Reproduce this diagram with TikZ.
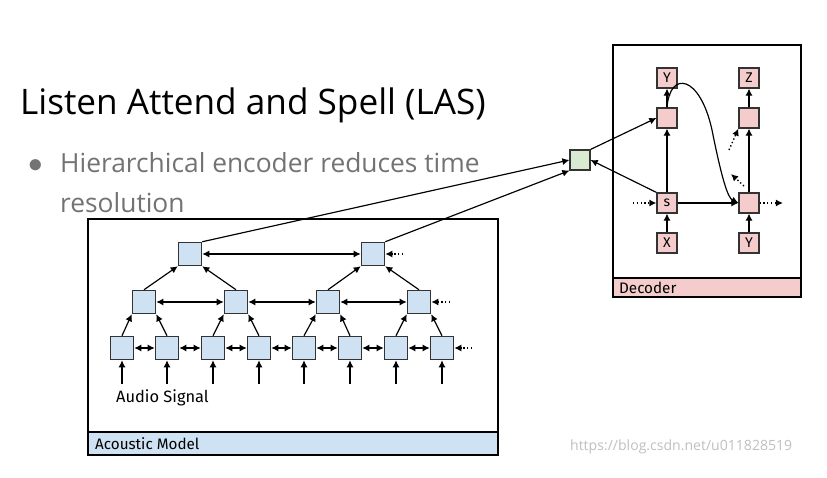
\documentclass[tikz,border=0pt]{standalone}
\usepackage{fontspec}
\setmainfont{Open Sans}
\newfontfamily\lab{Fira Sans}
\usetikzlibrary{arrows.meta}
\definecolor{encblue}{HTML}{CFE2F3}
\definecolor{decpink}{HTML}{F4CCCC}
\definecolor{attgreen}{HTML}{D9EAD3}
\begin{document}
\begin{tikzpicture}[x=0.03cm,y=-0.03cm,
  enc/.style={draw=black!80,fill=encblue,line width=1pt,minimum size=0.7cm,inner sep=0pt},
  dec/.style={draw=black!80,fill=decpink,line width=1pt,minimum size=0.6cm,inner sep=0pt,font=\lab\fontsize{12}{14}\selectfont},
  arr/.style={-{Latex[length=6pt,width=6pt]},line width=1pt},
  bi/.style={{Latex[length=6pt,width=6pt]}-{Latex[length=6pt,width=6pt]},line width=1pt},
  dot/.style={-{Latex[length=6pt,width=6pt]},line width=1.2pt,dotted}]
\useasboundingbox (0,0) rectangle (827,478);
% title and bullet
\node[anchor=west,font=\fontsize{30}{34}\selectfont] (title) at (16,105) {Listen Attend and Spell (LAS)};
\node[text=black!55,font=\fontsize{30}{30}\selectfont] (bul) at (36,166) {$\bullet$};
\node[anchor=west,text=black!55,font=\fontsize{22.5}{34}\selectfont,align=left] (btext) at (56,183) {Hierarchical encoder reduces time\\resolution};
% acoustic model box
\draw[fill=white,line width=1pt] (88,219) rectangle (498,455);
\draw[fill=encblue,line width=1pt] (88,432) rectangle (498,455);
\node[anchor=west,font=\lab\fontsize{13}{15}\selectfont] (am) at (91,444) {Acoustic Model};
% decoder box
\draw[fill=white,line width=1pt] (613,45) rectangle (801,297);
\draw[fill=decpink,line width=1pt] (613,278) rectangle (801,297);
\node[anchor=west,font=\lab\fontsize{13}{15}\selectfont] (dl) at (615,288) {Decoder};
% encoder rows
\foreach \i/\x in {1/122,2/167,3/213,4/259,5/304,6/350,7/396,8/442}{
  \node[enc] (b\i) at (\x,348) {};
  \coordinate (in\i) at (\x,384);
  \draw[arr] (in\i) -- (b\i);
}
\foreach \i/\x in {1/144,2/236,3/328,4/419}\node[enc] (m\i) at (\x,302) {};
\node[enc] (t1) at (190,254) {};
\node[enc] (t2) at (373,254) {};
\foreach \a/\b in {1/2,2/3,3/4,4/5,5/6,6/7,7/8}\draw[bi] (b\a) -- (b\b);
\foreach \a/\b in {1/2,2/3,3/4}\draw[bi] (m\a) -- (m\b);
\draw[bi] (t1) -- (t2);
\foreach \m/\x/\y in {1/1/2,2/3/4,3/5/6,4/7/8}{
  \draw[arr] (b\x.north) -- (m\m.south west);
  \draw[arr] (b\y.north) -- (m\m.south east);
}
\draw[arr] (m1.north) -- (t1.south west);
\draw[arr] (m2.north) -- (t1.south east);
\draw[arr] (m3.north) -- (t2.south west);
\draw[arr] (m4.north) -- (t2.south east);
\coordinate (eb) at (472,348); \coordinate (em) at (450,302); \coordinate (et) at (403,254);
\draw[dot] (eb) -- (b8);
\draw[dot] (em) -- (m4);
\draw[dot] (et) -- (t2);
\node[anchor=west,font=\lab\fontsize{14}{16}\selectfont] (audio) at (112,398) {Audio Signal};
% attention
\node[draw=black!80,fill=attgreen,line width=1pt,minimum size=0.6cm,inner sep=0pt] (g) at (580,160) {};
\draw[arr] (t1.north east) -- (g.west);
\draw[arr] (t2.north east) -- (g.south west);
% decoder nodes
\node[dec] (y1) at (667,78) {Y};
\node[dec] (z) at (749,78) {Z};
\node[dec] (h1) at (667,118) {};
\node[dec] (h2) at (749,118) {};
\node[dec] (s) at (667,203) {s};
\node[dec] (r) at (749,203) {};
\node[dec] (x) at (667,243) {X};
\node[dec] (y2) at (749,243) {Y};
\draw[arr] (x) -- (s);
\draw[arr] (y2) -- (r);
\draw[arr] (s) -- (h1);
\draw[arr] (h1) -- (y1);
\draw[arr] (r) -- (h2);
\draw[arr] (h2) -- (z);
\draw[arr] (s) -- (r);
\draw[arr] (g.north east) -- (h1.west);
\draw[arr] (s.north west) -- (g.east);
\draw[arr] (h1.north) .. controls (670,70) and (700,75) .. (712,130) .. controls (722,180) and (728,198) .. (r.west);
\coordinate (sl) at (633,203); \coordinate (rr) at (783,203);
\coordinate (dq) at (729,150); \coordinate (dp) at (744,186); \coordinate (dp2) at (731,174);
\draw[dot] (sl) -- (s);
\draw[dot] (r) -- (rr);
\draw[dot] (dq) -- (h2.south west);
\draw[dot] (dp) -- (dp2);
% watermark
\node[anchor=west,text=black!25,font=\fontsize{12}{14}\selectfont] (wm) at (566,447) {https://blog.csdn.net/u011828519};
\end{tikzpicture}
\end{document}
